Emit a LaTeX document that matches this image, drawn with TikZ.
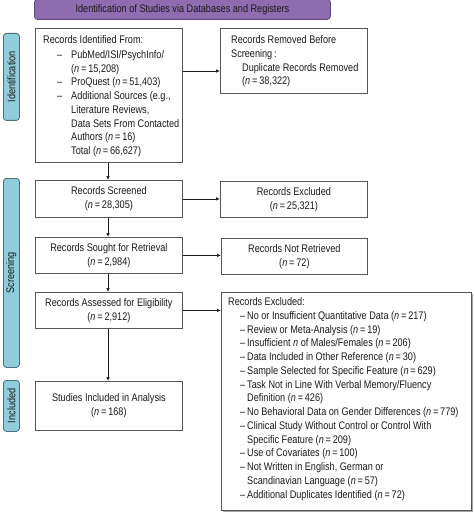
\documentclass[tikz,border=0pt]{standalone}
\usepackage{fontspec}
\setmainfont{Liberation Sans}[FakeStretch=0.83]
\usetikzlibrary{arrows.meta,shadows}
\definecolor{banfill}{HTML}{8E6CB0}
\definecolor{bandraw}{HTML}{5E4A80}
\definecolor{tabfill}{HTML}{90CCDC}
\definecolor{tabdraw}{HTML}{4A6E7E}
\definecolor{boxdraw}{HTML}{555555}
\definecolor{txt}{HTML}{1A1A1A}
\newcommand{\nn}{\textit{n}\,=\,}
\newcommand{\itA}[1]{\makebox[28pt][l]{\hspace*{14pt}--}#1}
\newcommand{\ctA}[1]{\hspace*{28pt}#1}
\newcommand{\itB}[1]{\makebox[19pt][l]{\hspace*{12pt}--}#1}
\newcommand{\ctB}[1]{\hspace*{19pt}#1}
\begin{document}
\begin{tikzpicture}[x=1pt,y=-1pt,
  every node/.style={text=txt,font=\fontsize{11}{13.75}\selectfont},
  box/.style={draw=boxdraw,line width=0.8pt,fill=white,anchor=north west,inner sep=0pt},
  bigbox/.style={box,drop shadow={shadow xshift=2pt,shadow yshift=-2pt,fill=black!35,opacity=1}},
  tab/.style={draw=tabdraw,fill=tabfill,line width=0.8pt,rounded corners=3pt,anchor=north west,inner sep=0pt},
  tabtext/.style={rotate=90,font=\fontsize{11}{12}\selectfont},
  arr/.style={-{Latex[length=4pt,width=3.5pt]},line width=0.7pt,draw=txt}]
\useasboundingbox (0,0) rectangle (474,513);
% banner
\node[draw=bandraw,fill=banfill,line width=0.8pt,rounded corners=3pt,anchor=north west,inner sep=0pt,
  minimum width=296pt,minimum height=20pt] (ban) at (34,-1) {};
\node at (ban.center) {Identification of Studies via Databases and Registers};
% side tabs
\node[tab,minimum width=16pt,minimum height=87pt] (tid) at (3,33) {};
\node[tabtext] at (tid.center) {Identification};
\node[tab,minimum width=16pt,minimum height=189pt] (tsc) at (3,178) {};
\node[tabtext] at (tsc.center) {Screening};
\node[tab,minimum width=16pt,minimum height=51pt] (tin) at (3,380) {};
\node[tabtext] at (tin.center) {Included};
% boxes
\node[box,minimum width=147pt,minimum height=134pt] (b1) at (35,28) {};
\node[align=left,anchor=north west,inner sep=0pt] at (43,35) {Records Identified From:\\[1.5pt]
\itA{PubMed/ISI/PsychInfo/}\\
\ctA{(\nn 15,208)}\\
\itA{ProQuest (\nn 51,403)}\\
\itA{Additional Sources (e.g.,}\\
\ctA{Literature Reviews,}\\
\ctA{Data Sets From Contacted}\\
\ctA{Authors (\nn 16)}\\
\ctA{Total (\nn 66,627)}};
\node[box,minimum width=147pt,minimum height=65pt] (b2) at (220,28) {};
\node[align=left,anchor=north west,inner sep=0pt] at (231,35.5) {Records Removed Before\\
Screening\,:\\
\hspace*{11pt}Duplicate Records Removed\\
\hspace*{11pt}(\nn 38,322)};
\node[box,minimum width=147pt,minimum height=37pt] (b3) at (35,180) {};
\node[align=center] at (b3.center) {Records Screened\\(\nn 28,305)};
\node[box,minimum width=147pt,minimum height=36pt] (b4) at (220,181) {};
\node[align=center] at (b4.center) {Records Excluded\\(\nn 25,321)};
\node[box,minimum width=147pt,minimum height=36pt] (b5) at (35,237) {};
\node[align=center] at (b5.center) {Records Sought for Retrieval\\(\nn 2,984)};
\node[box,minimum width=146pt,minimum height=36pt] (b6) at (221,238) {};
\node[align=center] at (b6.center) {Records Not Retrieved\\(\nn 72)};
\node[box,minimum width=147pt,minimum height=36pt] (b7) at (35,292) {};
\node[align=center] at (b7.center) {Records Assessed for Eligibility\\(\nn 2,912)};
\node[bigbox,minimum width=250pt,minimum height=218pt] (b8) at (221,292) {};
\node[align=left,anchor=north west,inner sep=0pt] at (228,297.5) {Records Excluded:\\
\itB{No or Insufficient Quantitative Data (\nn 217)}\\
\itB{Review or Meta-Analysis (\nn 19)}\\
\itB{Insufficient \textit{n} of Males/Females (\nn 206)}\\
\itB{Data Included in Other Reference (\nn 30)}\\
\itB{Sample Selected for Specific Feature (\nn 629)}\\
\itB{Task Not in Line With Verbal Memory/Fluency}\\
\ctB{Definition (\nn 426)}\\
\itB{No Behavioral Data on Gender Differences (\nn 779)}\\
\itB{Clinical Study Without Control or Control With}\\
\ctB{Specific Feature (\nn 209)}\\
\itB{Use of Covariates (\nn 100)}\\
\itB{Not Written in English, German or}\\
\ctB{Scandinavian Language (\nn 57)}\\
\itB{Additional Duplicates Identified (\nn 72)}};
\node[box,minimum width=147pt,minimum height=49pt] (b9) at (35,381) {};
\node[align=center] at (b9.center) {Studies Included in Analysis\\(\nn 168)};
% connectors
\coordinate (c1) at (b1.east |- 0,71);
\draw[arr] (c1) -- (c1 -| b2.west);
\draw[arr] (b3.east) -- (b4.west |- b3.east);
\draw[arr] (b5.east) -- (b6.west |- b5.east);
\draw[arr] (b7.east) -- (b8.west |- b7.east);
\coordinate (vx) at (108,0);
\draw[arr] (vx |- b1.south) -- (vx |- b3.north);
\draw[arr] (vx |- b3.south) -- (vx |- b5.north);
\draw[arr] (vx |- b5.south) -- (vx |- b7.north);
\draw[arr] (vx |- b7.south) -- (vx |- b9.north);
\end{tikzpicture}
\end{document}
